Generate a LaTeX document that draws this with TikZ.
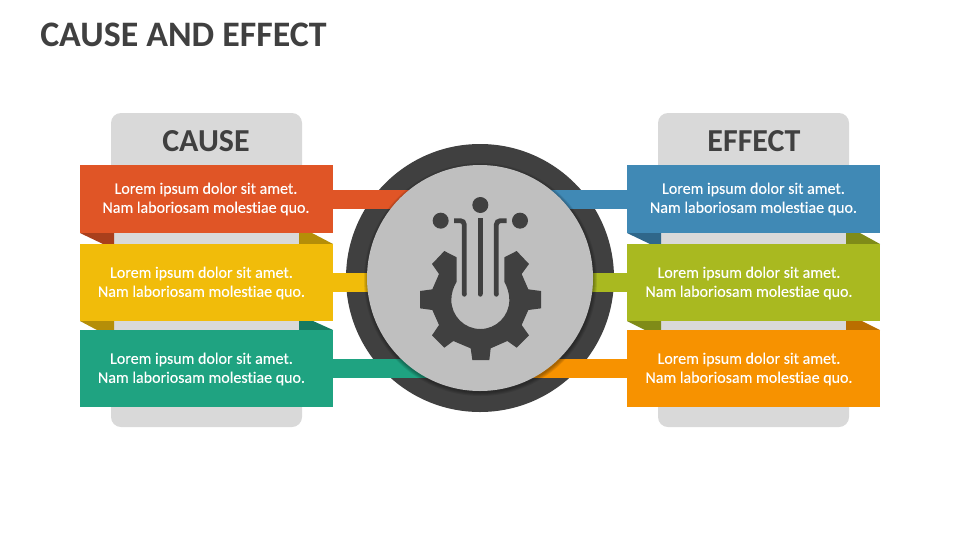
\documentclass[tikz,border=0pt]{standalone}
\usepackage{fontspec}
\setmainfont[Ligatures=NoCommon]{Carlito}
\newfontfamily\bandfont[Ligatures=NoCommon,FakeBold=0.25]{Carlito}
\definecolor{ink}{HTML}{404040}
\definecolor{panelgray}{HTML}{D9D9D9}
\definecolor{hubgray}{HTML}{BFBFBF}
\definecolor{cred}{HTML}{E05526}\definecolor{credD}{HTML}{A93F1C}
\definecolor{cyel}{HTML}{F1BC0A}\definecolor{cyelD}{HTML}{B58E08}
\definecolor{cgrn}{HTML}{1FA381}\definecolor{cgrnD}{HTML}{177A61}
\definecolor{cblu}{HTML}{4089B5}\definecolor{cbluD}{HTML}{2F678A}
\definecolor{clim}{HTML}{A9B920}\definecolor{climD}{HTML}{7F8B18}
\definecolor{corg}{HTML}{F79200}\definecolor{corgD}{HTML}{BA6E00}
\tikzset{
  panel/.style={fill=panelgray,rounded corners=7.5pt,minimum width=143.25pt,minimum height=235.5pt,inner sep=0pt},
  heading/.style={text=ink,font=\fontsize{24}{28}\selectfont\bfseries,inner sep=0pt},
  band/.style={minimum width=189.75pt,inner sep=0pt},
  bandtall/.style={band,minimum height=57.75pt},
  bandtop/.style={band,minimum height=51pt},
  bandtext/.style={text=white,align=center,inner sep=0pt,font=\bandfont\fontsize{12}{14.25}\selectfont},
  link/.style={line width=14.25pt},
  wire/.style={draw=ink,line width=3.6pt,line cap=butt},
}
\begin{document}
\begin{tikzpicture}[x=.75pt,y=-.75pt]
\useasboundingbox (0,0) rectangle (960,540);
\fill[white] (0,0) rectangle (960,540);
\node[text=ink,anchor=west,inner sep=0pt,font=\fontsize{26.9}{30}\selectfont\bfseries] (title) at (40,35) {CAUSE AND EFFECT};

\node[panel] (pl) at (206.5,270) {};
\node[panel] (pr) at (753.5,270) {};
\node[heading] (hl) at (206,141) {CAUSE};
\node[heading] (hr) at (754,141) {EFFECT};

% folds
\fill[credD] (114,233) -- (80,233) -- (103,244) -- (114,244) -- cycle;
\fill[cyelD] (299,233) -- (312,233) -- (333,244) -- (299,244) -- cycle;
\fill[cyelD] (114,321) -- (80,321) -- (97,330) -- (114,330) -- cycle;
\fill[cgrnD] (299,321) -- (313,321) -- (333,330) -- (299,330) -- cycle;
\fill[cbluD] (661,233) -- (627,233) -- (650,244) -- (661,244) -- cycle;
\fill[climD] (846,233) -- (860,233) -- (880,244) -- (846,244) -- cycle;
\fill[climD] (661,321) -- (627,321) -- (645,330) -- (661,330) -- cycle;
\fill[corgD] (846,321) -- (862,321) -- (880,330) -- (846,330) -- cycle;

% bands
\node[bandtop,fill=cred] (b1) at (206.5,199) {};
\node[bandtall,fill=cyel] (b2) at (206.5,282.5) {};
\node[bandtall,fill=cgrn] (b3) at (206.5,368.5) {};
\node[bandtop,fill=cblu] (b4) at (753.5,199) {};
\node[bandtall,fill=clim] (b5) at (753.5,282.5) {};
\node[bandtall,fill=corg] (b6) at (753.5,368.5) {};

\node[bandtext] (t1) at (206,199) {Lorem ipsum dolor sit amet.\\Nam laboriosam molestiae quo.};
\node[bandtext] (t2) at (201.5,283) {Lorem ipsum dolor sit amet.\\Nam laboriosam molestiae quo.};
\node[bandtext] (t3) at (201.5,369) {Lorem ipsum dolor sit amet.\\Nam laboriosam molestiae quo.};
\node[bandtext] (t4) at (753.5,199) {Lorem ipsum dolor sit amet.\\Nam laboriosam molestiae quo.};
\node[bandtext] (t5) at (749,283) {Lorem ipsum dolor sit amet.\\Nam laboriosam molestiae quo.};
\node[bandtext] (t6) at (749,369) {Lorem ipsum dolor sit amet.\\Nam laboriosam molestiae quo.};

% hub ring
\node[circle,fill=ink,minimum size=201pt,inner sep=0pt] (ring) at (480,278) {};

% connectors
\draw[link,cred] (b1.east) -- (ring.center |- b1.east);
\draw[link,cyel] (b2.east) -- (ring.center |- b2.east);
\draw[link,cgrn] (b3.east) -- (ring.center |- b3.east);
\draw[link,cblu] (b4.west) -- (ring.center |- b4.west);
\draw[link,clim] (b5.west) -- (ring.center |- b5.west);
\draw[link,corg] (b6.west) -- (ring.center |- b6.west);

% soft shadow of the inner disc
\foreach \r in {116.5,115.5,114.5,113.5}
  \fill[black,opacity=.09] (480.5,279.5) circle[radius=\r];

\node[circle,fill=hubgray,minimum size=169.5pt,inner sep=0pt] (hub) at (480,278) {};

% gear icon
\begin{scope}[shift={(400,180)},x=.25pt,y=-.25pt]
\fill[ink] (170,232) -- (133,213) -- (96,252) -- (117,282) -- (97,328) -- (60,333) -- (60,385) -- (97,390)
  -- (117,435) -- (96,466) -- (133,503) -- (160,483) -- (212,505) -- (217,540) -- (268,540) -- (272,505)
  -- (322,483) -- (350,503) -- (387,466) -- (365,435) -- (385,390) -- (423,385) -- (423,333) -- (385,328)
  -- (365,282) -- (387,252) -- (350,213) -- (313,232) -- (313,305)
  .. controls (322,322) and (328,340) .. (328,360)
  .. controls (328,408) and (289,447) .. (241,447)
  .. controls (193,447) and (154,408) .. (154,360)
  .. controls (154,340) and (160,322) .. (170,305) -- cycle;
\draw[wire] (241,115) -- (241,343);
\fill[ink] (241,343) circle[radius=7];
\draw[wire,rounded corners=3pt] (162,122) -- (193,122) -- (193,343);
\fill[ink] (193,343) circle[radius=7];
\draw[wire,rounded corners=3pt] (320,122) -- (289,122) -- (289,343);
\fill[ink] (289,343) circle[radius=7];
\fill[ink] (122,122) circle[radius=24];
\fill[ink] (241,75) circle[radius=24];
\fill[ink] (360,122) circle[radius=24];
\end{scope}
\end{tikzpicture}
\end{document}
